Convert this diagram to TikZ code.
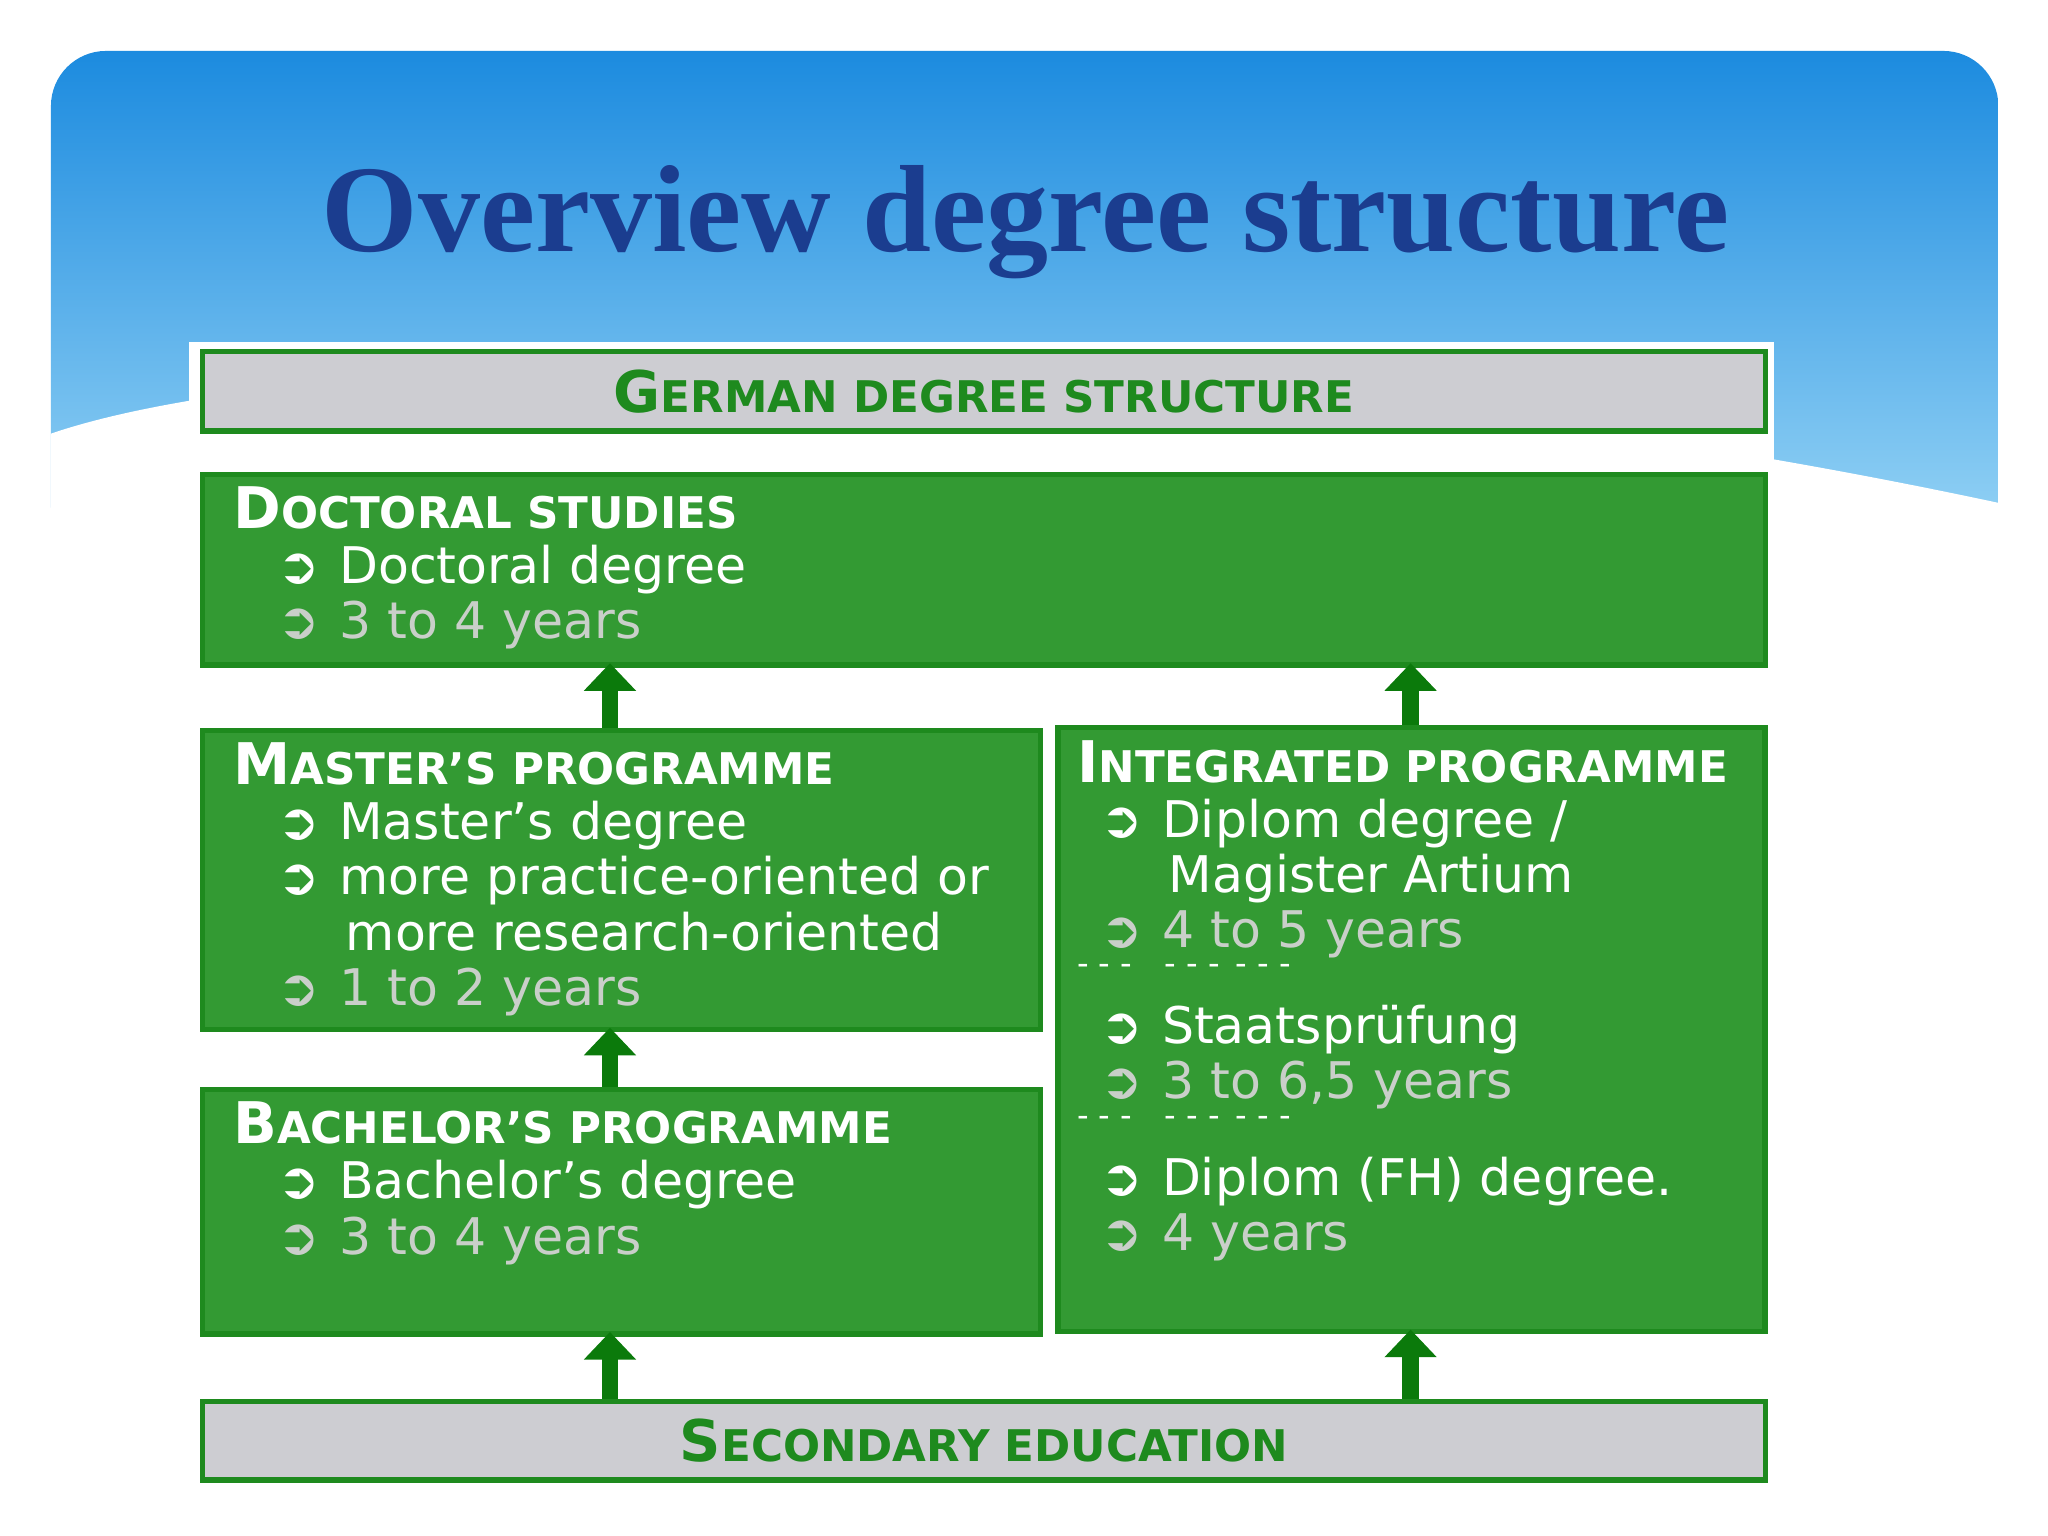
\documentclass[tikz,border=0pt]{standalone}
\usepackage{fontspec}
\setmainfont{DejaVu Sans}
\newfontfamily\titlefont{Liberation Serif}
\usetikzlibrary{arrows.meta}
\definecolor{skytop}{HTML}{1C8BDF}
\definecolor{skybot}{HTML}{9AD6F6}
\definecolor{titleblue}{HTML}{1B3D8F}
\definecolor{boxgreen}{HTML}{339A33}
\definecolor{edgegreen}{HTML}{1E8A1E}
\definecolor{arrgreen}{HTML}{0B7A0B}
\definecolor{headgrey}{HTML}{CDCDD2}
\definecolor{paleitem}{HTML}{C9CFC9}
\newcommand{\capsx}[2]{{\fontsize{12.5}{12.5}\selectfont #1}{\fontsize{9.5}{11}\selectfont #2}}
\newcommand{\bul}{\makebox[0.47cm][l]{\fontsize{11}{11}\selectfont ➲}}
\newcommand{\dashrow}{{\fontsize{7}{7}\selectfont - - -\quad - - -\, - - -}}
\tikzset{
  greenbox/.style={draw=edgegreen, line width=1.2pt, fill=boxgreen, anchor=north west, inner sep=0pt},
  greybox/.style={draw=edgegreen, line width=1.2pt, fill=headgrey, anchor=north west, inner sep=0pt,
    text=edgegreen, font=\bfseries},
  boxtext/.style={anchor=north west, text=white, align=left, inner sep=0pt,
    font=\fontsize{11}{12}\selectfont},
  uparrow/.style={draw=arrgreen, line width=3.6pt, -{Triangle[width=11pt,length=6pt]}, shorten >=-1pt}
}
\begin{document}
\begin{tikzpicture}[x=0.01cm, y=-0.01cm]
  \useasboundingbox (0,0) rectangle (1568,1176);
  \fill[white] (0,0) rectangle (1568,1176);
  % sky banner
  \shade[top color=skytop, bottom color=skybot, rounded corners=12pt]
    (39,430) -- (39,39) -- (1530,39) -- (1530,430) -- cycle;
  \fill[white] (39,332) .. controls (250,260) and (900,250) .. (1530,385)
    -- (1530,440) -- (39,440) -- cycle;
  \node[text=titleblue, font=\titlefont\bfseries\fontsize{27}{27}\selectfont] (title) at (785,170)
    {Overview degree structure};
  % panel
  \fill[white] (145,262) rectangle (1358,1176);
  \node[greybox, minimum width=11.96cm, minimum height=0.61cm] (head) at (153,267)
    {\capsx{G}{ERMAN DEGREE STRUCTURE}};
  \node[greenbox, minimum width=11.96cm, minimum height=1.46cm] (doct) at (153,361) {};
  \node[greenbox, minimum width=6.41cm, minimum height=2.29cm] (mast) at (153,557) {};
  \node[greenbox, minimum width=5.41cm, minimum height=4.62cm] (integ) at (808,555) {};
  \node[greenbox, minimum width=6.41cm, minimum height=1.87cm] (bach) at (153,832) {};
  \node[greybox, minimum width=11.96cm, minimum height=0.60cm] (sec) at (153,1071)
    {\capsx{S}{ECONDARY EDUCATION}};
  % texts
  \node[boxtext] (doctt) at (178,372) {{\bfseries\capsx{D}{OCTORAL STUDIES}}\\[0pt]
    \hspace{0.34cm}\bul Doctoral degree\\
    \hspace{0.34cm}{\color{paleitem}\bul 3 to 4 years}};
  \node[boxtext] (mastt) at (178,568) {{\bfseries\capsx{M}{ASTER'S PROGRAMME}}\\[0pt]
    \hspace{0.34cm}\bul Master's degree\\
    \hspace{0.34cm}\bul more practice-oriented or\\
    \hspace{0.34cm}\hspace{0.52cm}more research-oriented\\
    \hspace{0.34cm}{\color{paleitem}\bul 1 to 2 years}};
  \node[boxtext] (bacht) at (178,843) {{\bfseries\capsx{B}{ACHELOR'S PROGRAMME}}\\[0pt]
    \hspace{0.34cm}\bul Bachelor's degree\\
    \hspace{0.34cm}{\color{paleitem}\bul 3 to 4 years}};
  \node[boxtext] (integt) at (824,566) {{\bfseries\capsx{I}{NTEGRATED PROGRAMME}}\\[0pt]
    \hspace{0.18cm}\bul Diplom degree /\\
    \hspace{0.18cm}\hspace{0.52cm}Magister Artium\\
    \hspace{0.18cm}{\color{paleitem}\bul 4 to 5 years}\\[-6pt]
    \dashrow\\[3pt]
    \hspace{0.18cm}\bul Staatsprüfung\\
    \hspace{0.18cm}{\color{paleitem}\bul 3 to 6,5 years}\\[-6pt]
    \dashrow\\[3pt]
    \hspace{0.18cm}\bul Diplom (FH) degree.\\
    \hspace{0.18cm}{\color{paleitem}\bul 4 years}};
  % arrows
  \draw[uparrow] (sec.north -| 467,0) -- (bach.south -| 467,0);
  \draw[uparrow] (sec.north -| 1080,0) -- (integ.south -| 1080,0);
  \draw[uparrow] (bach.north -| 467,0) -- (mast.south -| 467,0);
  \draw[uparrow] (mast.north -| 467,0) -- (doct.south -| 467,0);
  \draw[uparrow] (integ.north -| 1080,0) -- (doct.south -| 1080,0);
\end{tikzpicture}
\end{document}
